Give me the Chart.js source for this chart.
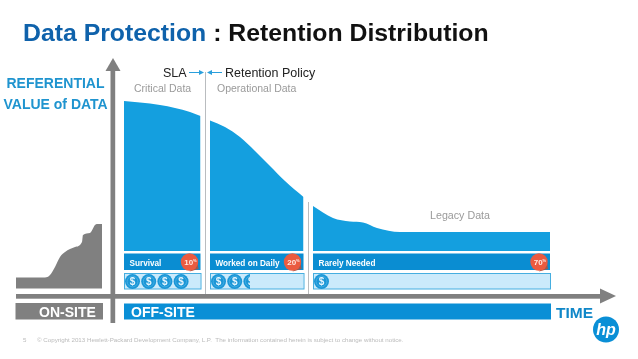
<!DOCTYPE html>
<html>
<head>
<meta charset="utf-8">
<title>Data Protection : Retention Distribution</title>
<script src="https://cdn.jsdelivr.net/npm/chart.js@4"></script>
<style>
  html, body { margin: 0; background: #fff; }
  canvas { display: block; }
</style>
</head>
<body>
<canvas id="chart" width="638" height="359"></canvas>
<script>
// value: time from the vertical arrow, height above the time arrow
const criticalTime = [11, 27, 47, 62, 77, 87.5];
const criticalValue = [195, 193.5, 191, 188, 184, 180];
const operationalTime = [97, 112, 127, 142, 157, 172, 190.5];
const operationalValue = [175.5, 169, 159, 145, 130, 115, 99];
const legacyTime = [200, 220, 237, 250, 264, 287, 437];
const legacyValue = [90, 78, 74.5, 73.5, 68, 64, 64];
const onSiteTime = [-97, -68, -63, -58, -53, -48, -38, -31, -30, -23, -18, -16, -11];
const onSiteValue = [18.5, 18.5, 21, 29, 39, 44, 49, 54, 61, 63, 71, 72, 72];

const tierNames = ["Survival", "Worked on Daily", "Rarely Needed"];
const tierShares = ["10", "20", "70"];
const tierCoins = [4, 2.5, 1];
const tierGroups = ["Critical Data", "Operational Data", "Legacy Data"];

const BLUE = "#149fdf";
const DARK_BLUE = "#0a8dd2";
const GREY = "#808080";
const FONT = '"Liberation Sans", Arial, sans-serif';

function points(xs, ys) {
  return xs.map((x, i) => ({ x: x, y: ys[i] }));
}

function area(xs, ys, color, base) {
  return {
    data: points(xs, ys),
    backgroundColor: color,
    borderWidth: 0,
    pointRadius: 0,
    fill: { value: base },
    cubicInterpolationMode: "monotone",
  };
}

function text(ctx, str, x, y, font, color, align) {
  ctx.font = font + " " + FONT;
  ctx.fillStyle = color;
  ctx.textAlign = align || "left";
  ctx.textBaseline = "alphabetic";
  ctx.fillText(str, x, y);
}

function arrowHead(ctx, tipX, tipY, dx, dy, half, color) {
  // dx,dy points from the base to the tip
  ctx.fillStyle = color;
  ctx.beginPath();
  ctx.moveTo(tipX, tipY);
  ctx.lineTo(tipX - dx + (dy ? half : 0), tipY - dy + (dx ? half : 0));
  ctx.lineTo(tipX - dx - (dy ? half : 0), tipY - dy - (dx ? half : 0));
  ctx.closePath();
  ctx.fill();
}

// furniture of the slide: tier bands, coins, badges, arrows, texts
const slide = {
  id: "slide",
  afterDatasetsDraw(chart) {
    const ctx = chart.ctx;
    const sx = (v) => chart.scales.x.getPixelForValue(v);
    const sy = (v) => chart.scales.y.getPixelForValue(v);
    const starts = [criticalTime[0], operationalTime[0], legacyTime[0]];
    const ends = [criticalTime[5], operationalTime[6], legacyTime[6]];

    ctx.save();

    // separators between the tiers
    ctx.fillStyle = "#b9bcbf";
    ctx.fillRect(sx(92), 72, 1, sy(0) - 72);
    ctx.fillRect(sx(195), 202, 1, sy(0) - 202);

    starts.forEach((start, i) => {
      const left = sx(start);
      const right = sx(ends[i]);

      ctx.fillStyle = DARK_BLUE;
      ctx.fillRect(left, sy(42.5), right - left, 16.5);

      ctx.fillStyle = "#cbeafb";
      ctx.fillRect(left, 273.5, right - left, 15.5);
      ctx.strokeStyle = "#45aee0";
      ctx.lineWidth = 1;
      ctx.strokeRect(left + 0.5, 273.5, right - left, 15.5);

      text(ctx, tierNames[i], left + 5.5, 266, "bold 8.2px", "#fff");

      // coins, the last one cut when the count is not whole
      const count = Math.ceil(tierCoins[i]);
      for (let c = 0; c < count; c++) {
        const cx = left + 8.5 + c * 16.2;
        const part = tierCoins[i] - c;
        ctx.save();
        if (part < 1) {
          ctx.beginPath();
          ctx.rect(cx - 8, 270, 8 * 2 * part - 1, 22);
          ctx.clip();
        }
        ctx.fillStyle = "#1b96d6";
        ctx.beginPath();
        ctx.arc(cx, 281.5, 7.5, 0, Math.PI * 2);
        ctx.fill();
        ctx.strokeStyle = "#52b6e8";
        ctx.lineWidth = 0.7;
        ctx.beginPath();
        ctx.arc(cx, 281.5, 5.4, 0, Math.PI * 2);
        ctx.stroke();
        text(ctx, "$", cx, 285.2, "bold 10px", "#e6f5fd", "center");
        ctx.restore();
      }

      // share badge
      const bx = right - 11;
      ctx.fillStyle = "#9c5a50";
      ctx.beginPath();
      ctx.moveTo(bx + 8, 262);
      ctx.lineTo(bx + 9, 269);
      ctx.lineTo(bx, 271.5);
      ctx.closePath();
      ctx.fill();
      ctx.fillStyle = "#ea5b40";
      ctx.beginPath();
      ctx.arc(bx, 262, 8.7, 0, Math.PI * 2);
      ctx.fill();
      text(ctx, tierShares[i], bx - 0.8, 265, "bold 8px", "#ffe9e2", "center");
      text(ctx, "%", bx + 5.3, 262, "bold 4px", "#ffe9e2", "center");
    });

    // axes arrows
    ctx.fillStyle = GREY;
    ctx.fillRect(sx(-2.5), 68, 4.7, 255);
    arrowHead(ctx, sx(0), 58, 0, -13, 7.5, GREY);
    ctx.fillStyle = GREY;
    ctx.fillRect(16, sy(2), 586, 4.7);
    arrowHead(ctx, 616, sy(0), 16, 0, 7.5, GREY);

    // on-site and off-site bands
    ctx.fillStyle = GREY;
    ctx.fillRect(15.5, 303, 87.5, 16.5);
    ctx.fillStyle = "#0a8fd6";
    ctx.fillRect(sx(starts[0]), 303.5, sx(ends[2]) - sx(starts[0]) + 1, 16);
    text(ctx, "ON-SITE", 39, 317, "bold 14px", "#fff");
    text(ctx, "OFF-SITE", 131, 317, "bold 14px", "#fff");
    text(ctx, "TIME", 556, 318, "bold 15.5px", "#1087c8");

    // title
    text(ctx, "Data Protection", 23, 41, "bold 24.8px", "#0f62ab");
    const titleWidth = ctx.measureText("Data Protection ").width;
    text(ctx, ": Retention Distribution", 23 + titleWidth, 41, "bold 24.8px", "#111");

    // axis title
    text(ctx, "REFERENTIAL", 6.5, 88, "bold 14px", "#1f94cf");
    text(ctx, "VALUE of DATA", 3.5, 109, "bold 14px", "#1f94cf");

    // SLA / retention policy
    text(ctx, "SLA", 163, 77, "12.5px", "#222");
    text(ctx, "Retention Policy", 225, 77, "12.5px", "#222");
    ctx.fillStyle = "#2a9fdc";
    ctx.fillRect(189, 72, 12, 1);
    ctx.fillRect(212, 72, 10, 1);
    arrowHead(ctx, 204, 72.5, 5, 0, 2.5, "#2a9fdc");
    arrowHead(ctx, 207, 72.5, -5, 0, 2.5, "#2a9fdc");

    // group labels
    text(ctx, tierGroups[0], 134, 92, "10.5px", "#9a9a9a");
    text(ctx, tierGroups[1], 217, 92, "10.5px", "#9a9a9a");
    text(ctx, tierGroups[2], 430, 219, "10.7px", "#9a9a9a");

    // footer
    text(ctx, "5", 23, 342, "6.2px", "#bbb");
    text(ctx, "© Copyright 2013 Hewlett-Packard Development Company, L.P.  The information contained herein is subject to change without notice.", 37, 342, "6.2px", "#bbb");

    // logo
    ctx.fillStyle = "#0a8fd6";
    ctx.beginPath();
    ctx.arc(606, 329.5, 13, 0, Math.PI * 2);
    ctx.fill();
    text(ctx, "hp", 606, 334.5, "italic bold 16px", "#fff", "center");

    ctx.restore();
  },
};

new Chart(document.getElementById("chart"), {
  type: "line",
  data: {
    datasets: [
      area(criticalTime, criticalValue, BLUE, 45),
      area(operationalTime, operationalValue, BLUE, 45),
      area(legacyTime, legacyValue, BLUE, 45),
      area(onSiteTime, onSiteValue, GREY, 7.5),
    ],
  },
  options: {
    responsive: false,
    animation: false,
    layout: { padding: 0 },
    plugins: { legend: { display: false }, tooltip: { enabled: false } },
    scales: {
      x: { type: "linear", min: -113, max: 525, display: false },
      y: { type: "linear", min: -63, max: 296, display: false },
    },
  },
  plugins: [slide],
});
</script>
</body>
</html>
